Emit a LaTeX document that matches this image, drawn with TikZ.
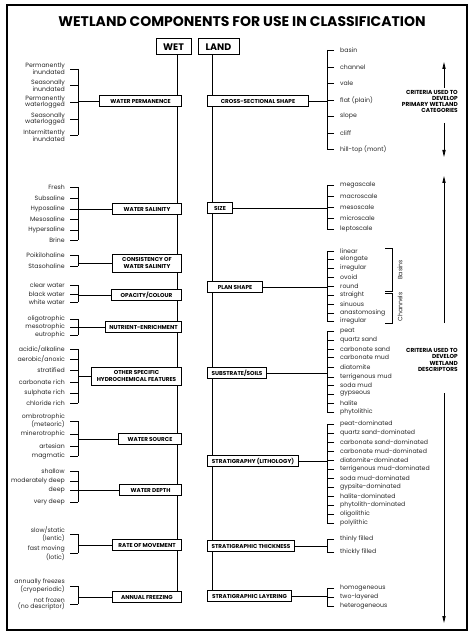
\documentclass[tikz,border=0pt]{standalone}
\usepackage{fontspec}
\setmainfont{Poppins}
\usetikzlibrary{arrows.meta, calc, positioning}

\newcommand{\itemfont}{\fontsize{6.2}{6.8}\selectfont}
\newcommand{\boxfont}{\fontsize{5.7}{6.8}\selectfont\bfseries}
\newcommand{\critfont}{\fontsize{5.8}{6.1}\selectfont\bfseries}

\tikzset{
  wbox/.style={draw, line width=1pt, fill=white, font=\boxfont, inner sep=1pt,
    minimum height=11, align=center, anchor=east},
  lbox/.style={wbox, anchor=west},
  hbox/.style={draw, line width=1pt, fill=white, font=\fontsize{9.5}{10}\selectfont\bfseries,
    inner sep=1pt, minimum height=16},
  litem/.style={font=\itemfont, inner sep=0pt, align=right, anchor=east, text=black!85},
  ritem/.style={font=\itemfont, inner sep=0pt, align=left, anchor=west, text=black!85},
  crit/.style={font=\critfont, inner sep=1pt, align=right, anchor=east},
  link/.style={line width=0.7pt},
  arr/.style={line width=0.8pt, -{Triangle[length=7pt,width=3.2pt]}},
}

\begin{document}
\begin{tikzpicture}[x=1pt, y=-1pt]
    \useasboundingbox (0,0) rectangle (474,636);

    % Frame and title
    \draw[line width=2pt] (7,5) rectangle (467,630);
    \node[font=\fontsize{14}{16}\selectfont\bfseries] (title) at (242,22)
        {WETLAND COMPONENTS FOR USE IN CLASSIFICATION};

    % WET / LAND heads
    \node[hbox, minimum width=35] (wet) at (173.5,47) {WET};
    \node[hbox, minimum width=41] (land) at (218.5,47) {LAND};
    \coordinate (wet-sp) at (177,55);
    \coordinate (land-sp) at (212,55);

    % Spines (boxes come later, on top)
    \draw[link] (wet-sp) -- (wet-sp |- 0,592);
    \draw[link] (land-sp) -- (land-sp |- 0,591);

    % ---------------- WET side ----------------
    % Water permanence
    \node[wbox, minimum width=82] (wperm) at (182,101) {WATER PERMANENCE};
    \foreach \y/\t [count=\i] in {69/{Permanently\\inundated}, 85.5/{Seasonally\\inundated},
        102/{Permanently\\waterlogged}, 119/{Seasonally\\waterlogged}, 135.5/{Intermittently\\inundated}}
        \node[litem] (wperm-\i) at (65,\y) {\t};
    \coordinate (wperm-top) at ([xshift=13]wperm-1.east);
    \coordinate (wperm-bot) at ([xshift=13]wperm-5.east);
    \foreach \i in {1,...,5} \draw[link] ([xshift=5]wperm-\i.east) -- ++(8,0);
    \draw[link] (wperm-top) -- (wperm-bot);
    \draw[link] (wperm.west) -- (wperm-top |- wperm.west);

    % Water salinity
    \node[wbox, minimum width=69] (wsal) at (182,209) {WATER SALINITY};
    \foreach \y/\t [count=\i] in {187/Fresh, 198/Subsaline, 209/Hyposaline,
        219/Mesosaline, 230/Hypersaline, 240/Brine}
        \node[litem] (wsal-\i) at (65,\y) {\t};
    \coordinate (wsal-top) at ([xshift=13]wsal-1.east);
    \coordinate (wsal-bot) at ([xshift=13]wsal-6.east);
    \foreach \i in {1,...,6} \draw[link] ([xshift=5]wsal-\i.east) -- ++(8,0);
    \draw[link] (wsal-top) -- (wsal-bot);
    \draw[link] (wsal.west) -- (wsal-top |- wsal.west);

    % Consistency of water salinity
    \node[wbox, minimum width=69, minimum height=18] (wcons) at (182,263) {CONSISTENCY OF\\WATER SALINITY};
    \foreach \y/\t [count=\i] in {255/Poikilohaline, 266/Stasohaline}
        \node[litem] (wcons-\i) at (65,\y) {\t};
    \coordinate (wcons-top) at ([xshift=13]wcons-1.east);
    \coordinate (wcons-bot) at ([xshift=13]wcons-2.east);
    \foreach \i in {1,2} \draw[link] ([xshift=5]wcons-\i.east) -- ++(8,0);
    \draw[link] (wcons-top) -- (wcons-bot);
    \draw[link] (wcons.west) -- (wcons-top |- wcons.west);

    % Opacity / colour
    \node[wbox, minimum width=70] (wopac) at (182,295) {OPACITY/COLOUR};
    \foreach \y/\t [count=\i] in {285/{clear water}, 294/{black water}, 302/{white water}}
        \node[litem] (wopac-\i) at (65,\y) {\t};
    \coordinate (wopac-top) at ([xshift=13]wopac-1.east);
    \coordinate (wopac-bot) at ([xshift=13]wopac-3.east);
    \foreach \i in {1,2,3} \draw[link] ([xshift=5]wopac-\i.east) -- ++(8,0);
    \draw[link] (wopac-top) -- (wopac-bot);
    \draw[link] (wopac.west) -- (wopac-top |- wopac.west);

    % Nutrient enrichment
    \node[wbox, minimum width=76] (wnutr) at (182,327) {NUTRIENT-ENRICHMENT};
    \foreach \y/\t [count=\i] in {319/oligotrophic, 327/mesotrophic, 335/eutrophic}
        \node[litem] (wnutr-\i) at (65,\y) {\t};
    \coordinate (wnutr-top) at ([xshift=13]wnutr-1.east);
    \coordinate (wnutr-bot) at ([xshift=13]wnutr-3.east);
    \foreach \i in {1,2,3} \draw[link] ([xshift=5]wnutr-\i.east) -- ++(8,0);
    \draw[link] (wnutr-top) -- (wnutr-bot);
    \draw[link] (wnutr.west) -- (wnutr-top |- wnutr.west);

    % Other hydrochemical features
    \node[wbox, minimum width=90, minimum height=18] (wchem) at (182,376) {OTHER SPECIFIC\\HYDROCHEMICAL FEATURES};
    \foreach \y/\t [count=\i] in {349/{acidic/alkaline}, 359/{aerobic/anoxic}, 370/stratified,
        382/{carbonate rich}, 393/{sulphate rich}, 403/{chloride rich}}
        \node[litem] (wchem-\i) at (65,\y) {\t};
    \coordinate (wchem-top) at ([xshift=13]wchem-1.east);
    \coordinate (wchem-bot) at ([xshift=13]wchem-6.east);
    \foreach \i in {1,...,6} \draw[link] ([xshift=5]wchem-\i.east) -- ++(8,0);
    \draw[link] (wchem-top) -- (wchem-bot);
    \draw[link] (wchem.west) -- (wchem-top |- wchem.west);

    % Water source
    \node[wbox, minimum width=63] (wsrc) at (182,439) {WATER SOURCE};
    \foreach \y/\t [count=\i] in {421/{ombrotrophic\\(meteoric)}, 434/minerotrophic,
        446/artesian, 456/magmatic}
        \node[litem] (wsrc-\i) at (65,\y) {\t};
    \coordinate (wsrc-top) at ([xshift=13]wsrc-1.east);
    \coordinate (wsrc-bot) at ([xshift=13]wsrc-4.east);
    \foreach \i in {1,...,4} \draw[link] ([xshift=5]wsrc-\i.east) -- ++(8,0);
    \draw[link] (wsrc-top) -- (wsrc-bot);
    \draw[link] (wsrc.west) -- (wsrc-top |- wsrc.west);

    % Water depth
    \node[wbox, minimum width=62] (wdepth) at (182,490) {WATER DEPTH};
    \foreach \y/\t [count=\i] in {471/shallow, 481/{moderately deep}, 490/deep, 502/{very deep}}
        \node[litem] (wdepth-\i) at (65,\y) {\t};
    \coordinate (wdepth-top) at ([xshift=13]wdepth-1.east);
    \coordinate (wdepth-bot) at ([xshift=13]wdepth-4.east);
    \foreach \i in {1,...,4} \draw[link] ([xshift=5]wdepth-\i.east) -- ++(8,0);
    \draw[link] (wdepth-top) -- (wdepth-bot);
    \draw[link] (wdepth.west) -- (wdepth-top |- wdepth.west);

    % Rate of movement
    \node[wbox, minimum width=69] (wrate) at (182,545) {RATE OF MOVEMENT};
    \foreach \y/\t [count=\i] in {534/{slow/static\\(lentic)}, 553/{fast moving\\(lotic)}}
        \node[litem] (wrate-\i) at (65,\y) {\t};
    \coordinate (wrate-top) at ([xshift=13]wrate-1.east);
    \coordinate (wrate-bot) at ([xshift=13]wrate-2.east);
    \foreach \i in {1,2} \draw[link] ([xshift=5]wrate-\i.east) -- ++(8,0);
    \draw[link] (wrate-top) -- (wrate-bot);
    \draw[link] (wrate.west) -- (wrate-top |- wrate.west);

    % Annual freezing
    \node[wbox, minimum width=69] (wfrz) at (182,597) {ANNUAL FREEZING};
    \foreach \y/\t [count=\i] in {586/{annually freezes\\(cryoperiodic)}, 604/{not frozen\\(no descriptor)}}
        \node[litem] (wfrz-\i) at (65,\y) {\t};
    \coordinate (wfrz-top) at ([xshift=13]wfrz-1.east);
    \coordinate (wfrz-bot) at ([xshift=13]wfrz-2.east);
    \foreach \i in {1,2} \draw[link] ([xshift=5]wfrz-\i.east) -- ++(8,0);
    \draw[link] (wfrz-top) -- (wfrz-bot);
    \draw[link] (wfrz.west) -- (wfrz-top |- wfrz.west);

    % ---------------- LAND side ----------------
    % Cross-sectional shape
    \node[lbox, minimum width=101] (lcross) at (207,101) {CROSS-SECTIONAL SHAPE};
    \foreach \y/\t [count=\i] in {50/basin, 67/channel, 83/vale, 100/{flat (plain)},
        116/slope, 133/cliff, 149/{hill-top (mont)}}
        \node[ritem] (lcross-\i) at (340,\y) {\t};
    \coordinate (lcross-top) at ([xshift=-13]lcross-1.west);
    \coordinate (lcross-bot) at ([xshift=-13]lcross-7.west);
    \foreach \i in {1,...,7} \draw[link] ([xshift=-6]lcross-\i.west) -- ++(-7,0);
    \draw[link] (lcross-top) -- (lcross-bot);
    \draw[link] (lcross.east) -- (lcross-top |- lcross.east);

    % Size
    \node[lbox, minimum width=25] (lsize) at (207,208) {SIZE};
    \foreach \y/\t [count=\i] in {185/megascale, 196/macroscale, 207/mesoscale,
        218/microscale, 229/leptoscale}
        \node[ritem] (lsize-\i) at (340,\y) {\t};
    \coordinate (lsize-top) at ([xshift=-13]lsize-1.west);
    \coordinate (lsize-bot) at ([xshift=-13]lsize-5.west);
    \foreach \i in {1,...,5} \draw[link] ([xshift=-6]lsize-\i.west) -- ++(-7,0);
    \draw[link] (lsize-top) -- (lsize-bot);
    \draw[link] (lsize.east) -- (lsize-top |- lsize.east);

    % Plan shape
    \node[lbox, minimum width=55] (lplan) at (207,287) {PLAN SHAPE};
    \foreach \y/\t [count=\i] in {251/linear, 259/elongate, 268/irregular, 277/ovoid, 286/round,
        295/straight, 304/sinuous, 313/anastomosing, 321/irregular}
        \node[ritem] (lplan-\i) at (340,\y) {\t};
    \coordinate (lplan-top) at ([xshift=-13]lplan-1.west);
    \coordinate (lplan-bot) at ([xshift=-13]lplan-9.west);
    \foreach \i in {1,...,9} \draw[link] ([xshift=-6]lplan-\i.west) -- ++(-7,0);
    \draw[link] (lplan-top) -- (lplan-bot);
    \draw[link] (lplan.east) -- (lplan-top |- lplan.east);
    % basins / channels brackets
    \coordinate (bas-t) at (392,248);
    \coordinate (bas-b) at (392,291);
    \coordinate (chan-t) at (392,293);
    \coordinate (chan-b) at (392,323);
    \draw[link] (bas-t) ++(-7,0) -- (bas-t) -- (bas-b) -- ++(-7,0);
    \draw[link] (chan-t) ++(-7,0) -- (chan-t) -- (chan-b) -- ++(-7,0);
    \node[font=\itemfont, text=black!85, rotate=90] (basins) at (400,270) {Basins};
    \node[font=\itemfont, text=black!85, rotate=90] (channels) at (400,307) {Channels};

    % Substrate / soils
    \node[lbox, minimum width=59] (lsubs) at (207,373) {SUBSTRATE/SOILS};
    \foreach \y/\t [count=\i] in {331/peat, 340/{quartz sand}, 349/{carbonate sand},
        357/{carbonate mud}, 367/diatomite, 377/{terrigenous mud}, 385/{soda mud},
        394/gypseous, 403/halite, 412/phytolithic}
        \node[ritem] (lsubs-\i) at (340,\y) {\t};
    \coordinate (lsubs-top) at ([xshift=-13]lsubs-1.west);
    \coordinate (lsubs-bot) at ([xshift=-13]lsubs-10.west);
    \foreach \i in {1,...,10} \draw[link] ([xshift=-6]lsubs-\i.west) -- ++(-7,0);
    \draw[link] (lsubs-top) -- (lsubs-bot);
    \draw[link] (lsubs.east) -- (lsubs-top |- lsubs.east);

    % Stratigraphy
    \node[lbox, minimum width=91] (lstrat) at (207,461) {STRATIGRAPHY (LITHOLOGY)};
    \foreach \y/\t [count=\i] in {424/peat-dominated, 433/{quartz sand-dominated},
        442/{carbonate sand-dominated}, 451/{carbonate mud-dominated}, 460/diatomite-dominated,
        469/{terrigenous mud-dominated}, 478/{soda mud-dominated}, 487/gypsite-dominated,
        496/halite-dominated, 505/phytolith-dominated, 514/oligolithic, 523/polylithic}
        \node[ritem] (lstrat-\i) at (340,\y) {\t};
    \coordinate (lstrat-top) at ([xshift=-13]lstrat-1.west);
    \coordinate (lstrat-bot) at ([xshift=-13]lstrat-12.west);
    \foreach \i in {1,...,12} \draw[link] ([xshift=-6]lstrat-\i.west) -- ++(-7,0);
    \draw[link] (lstrat-top) -- (lstrat-bot);
    \draw[link] (lstrat.east) -- (lstrat-top |- lstrat.east);

    % Stratigraphic thickness
    \node[lbox, minimum width=87] (lthick) at (207,546) {STRATIGRAPHIC THICKNESS};
    \foreach \y/\t [count=\i] in {539/{thinly filled}, 552/{thickly filled}}
        \node[ritem] (lthick-\i) at (340,\y) {\t};
    \coordinate (lthick-top) at ([xshift=-13]lthick-1.west);
    \coordinate (lthick-bot) at ([xshift=-13]lthick-2.west);
    \foreach \i in {1,2} \draw[link] ([xshift=-6]lthick-\i.west) -- ++(-7,0);
    \draw[link] (lthick-top) -- (lthick-bot);
    \draw[link] (lthick.east) -- (lthick-top |- lthick.east);

    % Stratigraphic layering
    \node[lbox, minimum width=84] (llayer) at (207,596) {STRATIGRAPHIC LAYERING};
    \foreach \y/\t [count=\i] in {588/homogeneous, 597/two-layered, 606/heterogeneous}
        \node[ritem] (llayer-\i) at (340,\y) {\t};
    \coordinate (llayer-top) at ([xshift=-13]llayer-1.west);
    \coordinate (llayer-bot) at ([xshift=-13]llayer-3.west);
    \foreach \i in {1,2,3} \draw[link] ([xshift=-6]llayer-\i.west) -- ++(-7,0);
    \draw[link] (llayer-top) -- (llayer-bot);
    \draw[link] (llayer.east) -- (llayer-top |- llayer.east);

    % ---------------- Criteria ----------------
    \node[crit] (prim) at (459,101.5) {CRITERIA USED TO\\DEVELOP\\PRIMARY WETLAND\\CATEGORIES};
    \coordinate (prim-up0) at (444,88);
    \coordinate (prim-up1) at (444,62);
    \coordinate (prim-dn0) at (444,123);
    \coordinate (prim-dn1) at (444,157);
    \draw[arr] (prim-up0) -- (prim-up1);
    \draw[arr] (prim-dn0) -- (prim-dn1);

    \node[crit] (desc) at (459,360) {CRITERIA USED TO\\DEVELOP\\WETLAND\\DESCRIPTORS};
    \coordinate (desc-up0) at (444,323);
    \coordinate (desc-up1) at (444,176);
    \coordinate (desc-dn0) at (444,393);
    \coordinate (desc-dn1) at (444,623);
    \draw[arr] (desc-up0) -- (desc-up1);
    \draw[arr] (desc-dn0) -- (desc-dn1);
\end{tikzpicture}
\end{document}
